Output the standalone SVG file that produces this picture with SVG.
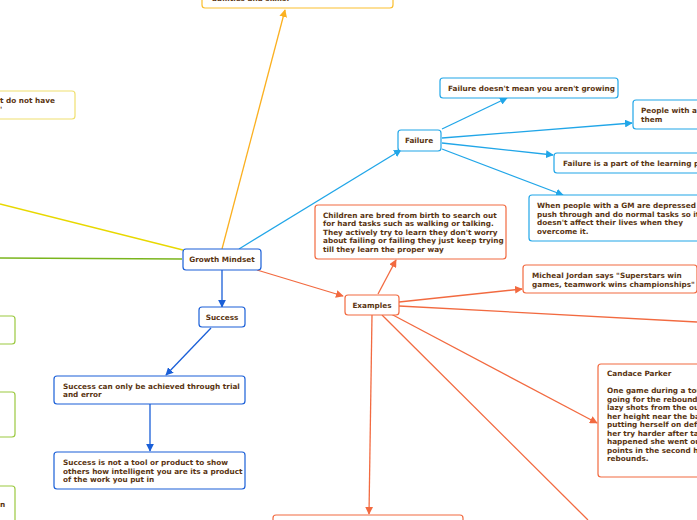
<svg xmlns="http://www.w3.org/2000/svg" width="697" height="520" viewBox="0 0 697 520">
<style>
text{font-family:Verdana,"DejaVu Sans",sans-serif;font-size:7.3px;font-weight:bold;fill:#5a3512}
.b{fill:#fff;stroke:#1a5fd8;stroke-width:1.2}
.c{fill:#fff;stroke:#21a6e8;stroke-width:1.2}
.r{fill:#fff;stroke:#f26a40;stroke-width:1.2}
.y{fill:#fff;stroke:#f0e070;stroke-width:1.2}
.o{fill:#fff;stroke:#fbbf2e;stroke-width:1.2}
.g{fill:#fff;stroke:#9bc940;stroke-width:1.2}
</style>
<defs>
<marker id="mb" viewBox="0 0 10 10" refX="9" refY="5" markerWidth="6" markerHeight="6" orient="auto"><path d="M0,0L10,5L0,10z" fill="#1a5fd8"/></marker>
<marker id="mc" viewBox="0 0 10 10" refX="9" refY="5" markerWidth="6" markerHeight="6" orient="auto"><path d="M0,0L10,5L0,10z" fill="#21a6e8"/></marker>
<marker id="mr" viewBox="0 0 10 10" refX="9" refY="5" markerWidth="6" markerHeight="6" orient="auto"><path d="M0,0L10,5L0,10z" fill="#f26a40"/></marker>
<marker id="mo" viewBox="0 0 10 10" refX="9" refY="5" markerWidth="6" markerHeight="6" orient="auto"><path d="M0,0L10,5L0,10z" fill="#fbb020"/></marker>
</defs>
<g id="connectors" fill="none" stroke-width="1.3">
<path d="M222,249L285,10" stroke="#fbb020" marker-end="url(#mo)"/>
<path d="M0,204L183,250" stroke="#e8d800"/>
<path d="M0,258L182,259" stroke="#7ab51d"/>
<path d="M239,249L401,150" stroke="#21a6e8" marker-end="url(#mc)"/>
<path d="M442,129L507,98" stroke="#21a6e8" marker-end="url(#mc)"/>
<path d="M442,138L632,123" stroke="#21a6e8" marker-end="url(#mc)"/>
<path d="M442,143L553,155" stroke="#21a6e8" marker-end="url(#mc)"/>
<path d="M442,149L563,195" stroke="#21a6e8" marker-end="url(#mc)"/>
<path d="M222,270L222,307" stroke="#1a5fd8" marker-end="url(#mb)"/>
<path d="M211,328L166,375" stroke="#1a5fd8" marker-end="url(#mb)"/>
<path d="M150,404L150,451" stroke="#1a5fd8" marker-end="url(#mb)"/>
<path d="M257,270L343,296" stroke="#f26a40" marker-end="url(#mr)"/>
<path d="M378,294L396,260" stroke="#f26a40" marker-end="url(#mr)"/>
<path d="M399,302L522,289" stroke="#f26a40" marker-end="url(#mr)"/>
<path d="M399,306L697,322" stroke="#f26a40"/>
<path d="M391,314L597,423" stroke="#f26a40" marker-end="url(#mr)"/>
<path d="M382,315L588,520" stroke="#f26a40"/>
<path d="M372,315L369,514" stroke="#f26a40" marker-end="url(#mr)"/>
</g>
<g id="n-top"><rect class="o" x="202" y="-20" width="191" height="28" rx="3"/><text x="212" y="1">abilities and skills.</text></g>
<g id="n-yellow"><rect class="y" x="-20" y="91" width="95" height="28" rx="3"/><text x="0" y="103">t do not have</text><text x="0" y="112">'</text></g>
<g id="n-g1"><rect class="g" x="-20" y="316" width="35" height="28" rx="3"/></g>
<g id="n-g2"><rect class="g" x="-20" y="392" width="35" height="45" rx="3"/></g>
<g id="n-g3"><rect class="g" x="-20" y="486" width="35" height="50" rx="3"/><text x="0" y="507">n</text></g>
<g id="n-gm"><rect class="b" x="183" y="249" width="78" height="21" rx="3"/><text x="222" y="262" text-anchor="middle">Growth Mindset</text></g>
<g id="n-success"><rect class="b" x="199" y="307" width="46" height="20" rx="3"/><text x="222" y="320" text-anchor="middle">Success</text></g>
<g id="n-s1"><rect class="b" x="54" y="376" width="191" height="28" rx="3"/><text x="63" y="389">Success can only be achieved through trial</text><text x="63" y="397">and error</text></g>
<g id="n-s2"><rect class="b" x="54" y="452" width="191" height="37" rx="3"/><text x="63" y="465">Success is not a tool or product to show</text><text x="63" y="474">others how intelligent you are its a product</text><text x="63" y="482">of the work you put in</text></g>
<g id="n-failure"><rect class="c" x="398" y="130" width="43" height="21" rx="3"/><text x="419" y="143" text-anchor="middle">Failure</text></g>
<g id="n-f1"><rect class="c" x="440" y="78" width="178" height="20" rx="3"/><text x="448" y="91">Failure doesn't mean you aren't growing</text></g>
<g id="n-f2"><rect class="c" x="633" y="100" width="80" height="29" rx="3"/><text x="641" y="113">People with a</text><text x="641" y="122">them</text></g>
<g id="n-f3"><rect class="c" x="554" y="153" width="160" height="20" rx="3"/><text x="563" y="166">Failure is a part of the learning process</text></g>
<g id="n-f4"><rect class="c" x="529" y="195" width="180" height="46" rx="3"/><text x="537" y="208">When people with a GM are depressed they</text><text x="537" y="217">push through and do normal tasks so it</text><text x="537" y="225">doesn't affect their lives when they</text><text x="537" y="234">overcome it.</text></g>
<g id="n-examples"><rect class="r" x="345" y="295" width="54" height="20" rx="3"/><text x="372" y="308" text-anchor="middle">Examples</text></g>
<g id="n-e1"><rect class="r" x="315" y="205" width="191" height="54" rx="3"/><text x="323" y="218">Children are bred from birth to search out</text><text x="323" y="226">for hard tasks such as walking or talking.</text><text x="323" y="235">They actively try to learn they don't worry</text><text x="323" y="243">about failing or failing they just keep trying</text><text x="323" y="252">till they learn the proper way</text></g>
<g id="n-e2"><rect class="r" x="523" y="265" width="174" height="28" rx="3"/><text x="532" y="278">Micheal  Jordan says "Superstars win</text><text x="532" y="287">games, teamwork wins championships"</text></g>
<g id="n-e3"><rect class="r" x="598" y="364" width="120" height="113" rx="3"/><text x="607" y="376">Candace Parker</text><text x="607" y="393">One game during a tournament</text><text x="607" y="402">going for the rebound. She took</text><text x="607" y="410">lazy shots from the outside</text><text x="607" y="419">her height near the basket</text><text x="607" y="427">putting herself on defense</text><text x="607" y="436">her try harder after talking</text><text x="607" y="444">happened she went out</text><text x="607" y="453">points in the second half</text><text x="607" y="461">rebounds.</text></g>
<g id="n-e4"><rect class="r" x="273" y="515" width="190" height="30" rx="3"/></g>
</svg>
